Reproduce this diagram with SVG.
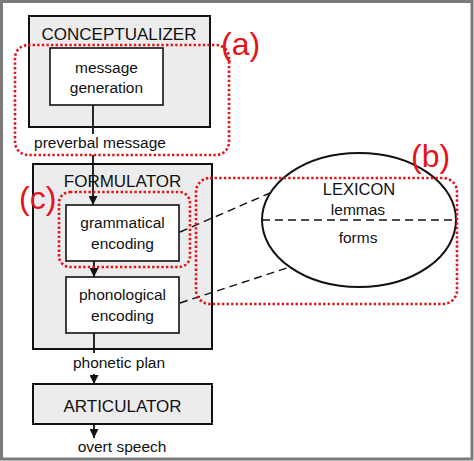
<svg xmlns="http://www.w3.org/2000/svg" width="474" height="461" viewBox="0 0 474 461">
<defs>
<style>
text{font-family:"Liberation Sans",Arial,sans-serif;fill:#111;text-anchor:middle}
.cap{font-size:17px}
.lbl{font-size:15.5px}
.red{fill:#e3141b;font-size:32px;text-anchor:start}
.gray{fill:#ececec;stroke:#111;stroke-width:2}
.white{fill:#fff;stroke:#111;stroke-width:1.6}
.dots{fill:none;stroke:#e3141b;stroke-width:2.6;stroke-dasharray:2.4 2.2}
.dash{fill:none;stroke:#111;stroke-width:1.4;stroke-dasharray:8 5}
.line{fill:none;stroke:#111;stroke-width:1.8}
</style>
<marker id="ah" markerWidth="10" markerHeight="9" refX="9" refY="4.5" orient="auto" markerUnits="userSpaceOnUse">
<path d="M0,0 L9,4.5 L0,9 Z" fill="#111"/>
</marker>
</defs>
<rect x="0" y="0" width="474" height="461" fill="#fff"/>
<rect x="1.5" y="1.5" width="470.5" height="457.5" fill="none" stroke="#7a7a7a" stroke-width="3"/>

<g id="conceptualizer">
<rect class="gray" x="29" y="16" width="181" height="111"/>
<text class="cap" x="119" y="39.5">CONCEPTUALIZER</text>
</g>
<g id="message-generation">
<rect class="white" x="50" y="48" width="113" height="57"/>
<text class="lbl" x="106.5" y="73">message</text>
<text class="lbl" x="106.5" y="93">generation</text>
</g>

<g id="formulator">
<rect class="gray" x="33" y="164" width="179" height="185"/>
<text class="cap" x="122.5" y="187">FORMULATOR</text>
</g>
<g id="grammatical-encoding">
<rect class="white" x="66" y="205" width="113" height="56"/>
<text class="lbl" x="122.5" y="228">grammatical</text>
<text class="lbl" x="122.5" y="249">encoding</text>
</g>
<g id="phonological-encoding">
<rect class="white" x="66" y="277" width="113" height="56"/>
<text class="lbl" x="122.5" y="300">phonological</text>
<text class="lbl" x="122.5" y="321">encoding</text>
</g>

<g id="articulator">
<rect class="gray" x="33" y="384" width="179" height="40"/>
<text class="cap" x="122.5" y="412">ARTICULATOR</text>
</g>

<g id="lexicon">
<ellipse cx="359" cy="220" rx="97" ry="67" fill="#fff" stroke="#111" stroke-width="2"/>
<line class="dash" x1="262" y1="220" x2="456" y2="220"/>
<text x="359" y="195" style="font-size:16.5px">LEXICON</text>
<text class="lbl" x="358" y="215">lemmas</text>
<text class="lbl" x="358" y="243">forms</text>
</g>

<g id="connectors">
<line class="line" x1="93" y1="105" x2="93" y2="134"/>
<line class="line" x1="93" y1="155" x2="93" y2="205" marker-end="url(#ah)"/>
<line class="line" x1="94" y1="261" x2="94" y2="277" marker-end="url(#ah)"/>
<line class="line" x1="94" y1="333" x2="94" y2="353"/>
<line class="line" x1="94" y1="374" x2="94" y2="384" marker-end="url(#ah)"/>
<line class="line" x1="94" y1="424" x2="94" y2="438" marker-end="url(#ah)"/>
<line class="dash" x1="180" y1="232" x2="270" y2="193"/>
<line class="dash" x1="180" y1="303" x2="290" y2="267"/>
</g>

<g id="flow-labels">
<text class="lbl" x="100" y="148">preverbal message</text>
<text class="lbl" x="119" y="368">phonetic plan</text>
<text class="lbl" x="122" y="452">overt speech</text>
</g>

<g id="highlight-a">
<rect class="dots" x="15" y="45" width="214" height="110" rx="13"/>
<text class="red" x="221" y="55">(a)</text>
</g>
<g id="highlight-b">
<rect class="dots" x="196" y="178" width="261" height="126" rx="14"/>
<text class="red" x="411" y="167">(b)</text>
</g>
<g id="highlight-c">
<rect class="dots" x="59" y="192" width="131" height="75" rx="11"/>
<text class="red" x="19" y="209">(c)</text>
</g>
</svg>
